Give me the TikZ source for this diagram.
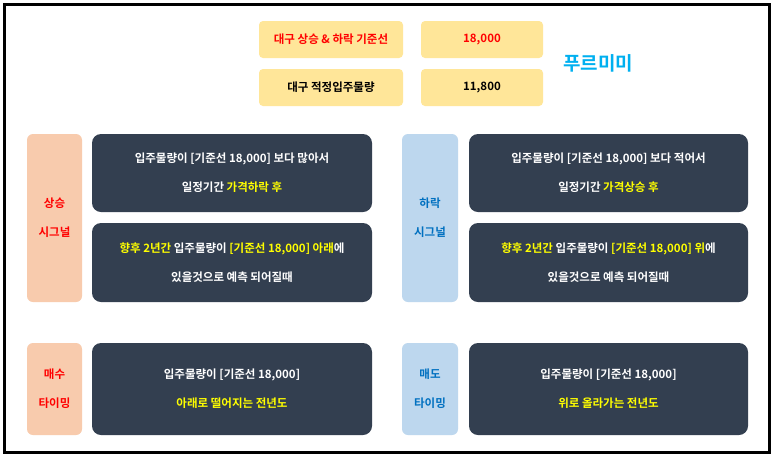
\documentclass[tikz,border=0pt]{standalone}
\usepackage{fontspec}
\setmainfont{Noto Sans CJK KR}[BoldFont={Noto Sans CJK KR Bold}]
\definecolor{ybox}{HTML}{FFE699}
\definecolor{dark}{HTML}{333F50}
\definecolor{peach}{HTML}{F8CBAD}
\definecolor{lblue}{HTML}{BDD7EE}
\definecolor{hl}{HTML}{FFFF00}
\definecolor{cy}{HTML}{00B0F0}
\definecolor{rb}{HTML}{0070C0}
\begin{document}
\begin{tikzpicture}[x=1pt,y=-1pt,
 yb/.style={fill=ybox,rounded corners=4pt},
 db/.style={fill=dark,rounded corners=9pt},
 pb/.style={fill=peach,rounded corners=6pt},
 bb/.style={fill=lblue,rounded corners=6pt},
 tx/.style={font=\fontsize{11.5}{29}\selectfont\bfseries,align=center}]
\useasboundingbox (0,0) rectangle (773,456);
\fill[white] (0,0) rectangle (773,456);
\draw[line width=3pt] (4,4) rectangle (769,452);
% top
\fill[yb] (259,21) rectangle (403,58); \node[tx,text=red] (a1) at (331,39.5) {대구 상승 \& 하락 기준선};
\fill[yb] (421,21) rectangle (543,58); \node[tx,text=red] (a2) at (482,39.5) {18,000};
\fill[yb] (259,69) rectangle (403,106); \node[tx] (b1) at (331,87.5) {대구 적정입주물량};
\fill[yb] (421,69) rectangle (543,106); \node[tx] (b2) at (482,87.5) {11,800};
\node[font=\fontsize{19}{19}\selectfont\bfseries,text=cy] (logo) at (598,63) {푸르미미};
% left
\fill[pb] (27,134) rectangle (82,302); \node[tx,text=red] (l1) at (54.5,218) {상승\\시그널};
\fill[db] (92,134) rectangle (372,212); \node[tx,text=white] (l2) at (232,173) {입주물량이 [기준선 18,000] 보다 많아서\\일정기간 \textcolor{hl}{가격하락 후}};
\fill[db] (92,223) rectangle (372,302); \node[tx,text=white] (l3) at (232,262.5) {\textcolor{hl}{향후 2년간} 입주물량이 \textcolor{hl}{[기준선 18,000] 아래}에\\있을것으로 예측 되어질때};
% right
\fill[bb] (402,134) rectangle (458,302); \node[tx,text=rb] (r1) at (430,218) {하락\\시그널};
\fill[db] (469,134) rectangle (748,212); \node[tx,text=white] (r2) at (608.5,173) {입주물량이 [기준선 18,000] 보다 적어서\\일정기간 \textcolor{hl}{가격상승 후}};
\fill[db] (469,223) rectangle (748,302); \node[tx,text=white] (r3) at (608.5,262.5) {\textcolor{hl}{향후 2년간} 입주물량이 \textcolor{hl}{[기준선 18,000] 위}에\\있을것으로 예측 되어질때};
% bottom
\fill[pb] (27,343) rectangle (82,435); \node[tx,text=red] (m1) at (54.5,389) {매수\\타이밍};
\fill[db] (92,343) rectangle (372,435); \node[tx,text=white] (m2) at (232,389) {입주물량이 [기준선 18,000]\\\textcolor{hl}{아래로 떨어지는 전년도}};
\fill[bb] (402,343) rectangle (458,435); \node[tx,text=rb] (n1) at (430,389) {매도\\타이밍};
\fill[db] (469,343) rectangle (748,435); \node[tx,text=white] (n2) at (608.5,389) {입주물량이 [기준선 18,000]\\\textcolor{hl}{위로 올라가는 전년도}};
\end{tikzpicture}
\end{document}
